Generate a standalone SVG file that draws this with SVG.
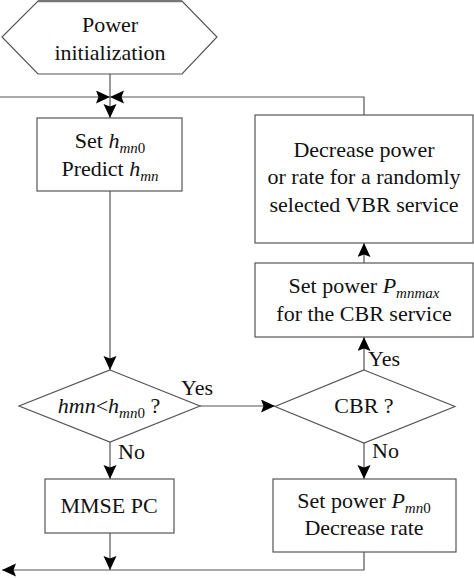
<svg xmlns="http://www.w3.org/2000/svg" width="474" height="578" viewBox="0 0 474 578" font-family="'Liberation Serif', 'DejaVu Serif', serif">
<style>
.shape{fill:#fff;stroke:#555;stroke-width:1.2}
.conn{fill:none;stroke:#555;stroke-width:1.2}
text{font-family:'Liberation Serif','Tinos','DejaVu Serif',serif;font-size:22px;fill:#111}
.c{text-anchor:middle}
.i{font-style:italic}
.sub{font-size:15px}
</style>
<defs>
<marker id="arr" markerUnits="userSpaceOnUse" markerWidth="16" markerHeight="14" refX="14" refY="6.5" orient="auto">
<path d="M0,0 L14,6.5 L0,13 L2.5,6.5 Z" fill="#000"/>
</marker>
</defs>
<g id="connectors">
<path class="conn" d="M110,74 V118" marker-end="url(#arr)"/>
<path class="conn" d="M0,97 H110" marker-end="url(#arr)"/>
<path class="conn" d="M364,115 V97 H110" marker-end="url(#arr)"/>
<path class="conn" d="M110,191 V370" marker-end="url(#arr)"/>
<path class="conn" d="M200,406 H275" marker-end="url(#arr)"/>
<path class="conn" d="M110,442 V479" marker-end="url(#arr)"/>
<path class="conn" d="M110,533 V570" marker-end="url(#arr)"/>
<path class="conn" d="M364,370 V337" marker-end="url(#arr)"/>
<path class="conn" d="M364,263 V243" marker-end="url(#arr)"/>
<path class="conn" d="M364,443 V479" marker-end="url(#arr)"/>
<path class="conn" d="M364,552 V570 H2" marker-end="url(#arr)"/>
</g>
<g id="start">
<polygon class="shape" points="38,1 182,1 217,37 182,74 38,74 2,37"/>
<line x1="38" y1="1" x2="182" y2="1" stroke="#777" stroke-width="2.5"/>
<text class="c" x="110" y="32">Power</text>
<text class="c" x="110" y="60">initialization</text>
</g>
<g id="predict">
<rect class="shape" x="37" y="118" width="145" height="73"/>
<text class="c" x="110" y="148">Set <tspan class="i">h</tspan><tspan class="sub i" dy="5">mn</tspan><tspan class="sub">0</tspan></text>
<text class="c" x="110" y="176">Predict <tspan class="i">h</tspan><tspan class="sub i" dy="5">mn</tspan></text>
</g>
<g id="decision1">
<polygon class="shape" points="110,370 200,406 110,442 19,406"/>
<text class="c" x="109" y="413"><tspan class="i">hmn</tspan>&lt;<tspan class="i">h</tspan><tspan class="sub i" dy="5">mn</tspan><tspan class="sub">0</tspan><tspan dy="-5"> ?</tspan></text>
<text x="181" y="395">Yes</text>
<text x="118" y="459">No</text>
</g>
<g id="mmse">
<rect class="shape" x="45" y="479" width="129" height="54"/>
<text class="c" x="109" y="513">MMSE PC</text>
</g>
<g id="decision2">
<polygon class="shape" points="364,370 455,406.5 364,443 275,406.5"/>
<text class="c" x="364" y="413">CBR ?</text>
<text x="368" y="366">Yes</text>
<text x="372" y="458">No</text>
</g>
<g id="setpmn0">
<rect class="shape" x="273" y="479" width="183" height="73"/>
<text class="c" x="364" y="508">Set power <tspan class="i">P</tspan><tspan class="sub i" dy="5">mn</tspan><tspan class="sub">0</tspan></text>
<text class="c" x="364" y="535">Decrease rate</text>
</g>
<g id="setpmax">
<rect class="shape" x="255" y="263" width="218" height="74"/>
<text class="c" x="364" y="293">Set power <tspan class="i">P</tspan><tspan class="sub i" dy="5">mnmax</tspan></text>
<text class="c" x="364" y="321">for the CBR service</text>
</g>
<g id="decrease">
<rect class="shape" x="255" y="115" width="218" height="128"/>
<text class="c" x="364" y="157">Decrease power</text>
<text class="c" x="364" y="184">or rate for a randomly</text>
<text class="c" x="364" y="212">selected VBR service</text>
</g>
</svg>
